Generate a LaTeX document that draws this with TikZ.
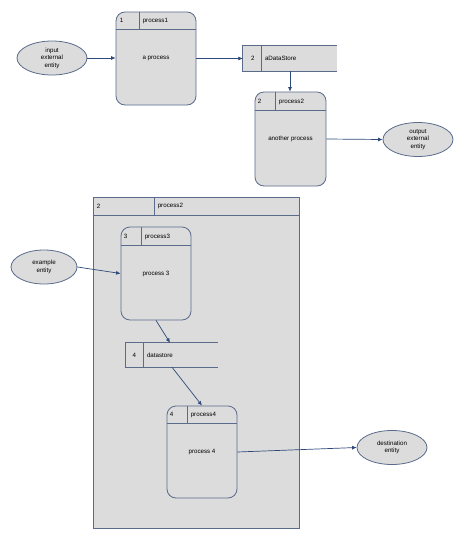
\documentclass[tikz,border=0pt]{standalone}
\usepackage{fontspec}
\setmainfont{Liberation Sans}
\usetikzlibrary{arrows.meta,shapes.geometric,calc}
\definecolor{boxfill}{HTML}{DCDCDC}
\definecolor{boxline}{HTML}{5B6B8C}
\definecolor{arrowcol}{HTML}{2E4A7A}
\tikzset{
  txt/.style={font=\fontsize{6.2}{7.4}\selectfont, text=black, inner sep=0pt},
  proc/.style={draw=boxline, fill=boxfill, rounded corners=9pt, line width=0.8pt, inner sep=0pt, txt},
  ent/.style={draw=boxline, fill=boxfill, ellipse, line width=0.8pt, inner sep=0pt, txt, align=center, minimum width=70pt, minimum height=34pt},
  dsfill/.style={fill=boxfill, draw=none, inner sep=0pt, rectangle},
  edge/.style={draw=boxline, line width=0.7pt},
  flow/.style={draw=arrowcol, line width=0.7pt, -{Latex[length=4.5pt,width=4pt]}},
}
\begin{document}
\begin{tikzpicture}[x=1pt,y=-1pt]
\useasboundingbox[fill=white] (0,0) rectangle (474,557);

% big outer process2 box
\node[draw=boxline, fill=boxfill, line width=0.8pt, minimum width=206pt, minimum height=331pt, inner sep=0pt] (big) at (196,362.5) {};
\draw[edge] ([yshift=-19pt]big.north west) -- ([yshift=-19pt]big.north east);
\draw[edge] ([xshift=62pt]big.north west) -- ([xshift=62pt,yshift=-19pt]big.north west);
\node[txt, anchor=west] (bignum) at ([xshift=4pt,yshift=-10pt]big.north west) {2};
\node[txt, anchor=west] (bigname) at ([xshift=65pt,yshift=-9pt]big.north west) {process2};

% process1
\node[proc, minimum width=80pt, minimum height=93pt] (p1) at (156,58.5) {a process};
\draw[edge] ([yshift=-18pt]p1.north west) -- ([yshift=-18pt]p1.north east);
\draw[edge] ([xshift=24pt]p1.north west) -- ([xshift=24pt,yshift=-18pt]p1.north west);
\node[txt, anchor=west] (p1num) at ([xshift=4pt,yshift=-9pt]p1.north west) {1};
\node[txt, anchor=west] (p1name) at ([xshift=27pt,yshift=-9pt]p1.north west) {process1};

% process2
\node[proc, minimum width=71pt, minimum height=94pt] (p2) at (290.5,139) {another process};
\draw[edge] ([yshift=-19pt]p2.north west) -- ([yshift=-19pt]p2.north east);
\draw[edge] ([xshift=21pt]p2.north west) -- ([xshift=21pt,yshift=-19pt]p2.north west);
\node[txt, anchor=west] (p2num) at ([xshift=3pt,yshift=-10pt]p2.north west) {2};
\node[txt, anchor=west] (p2name) at ([xshift=24pt,yshift=-10pt]p2.north west) {process2};

% process3
\node[proc, minimum width=70pt, minimum height=93pt] (p3) at (156,273.5) {process 3};
\draw[edge] ([yshift=-19pt]p3.north west) -- ([yshift=-19pt]p3.north east);
\draw[edge] ([xshift=21pt]p3.north west) -- ([xshift=21pt,yshift=-19pt]p3.north west);
\node[txt, anchor=west] (p3num) at ([xshift=3pt,yshift=-10pt]p3.north west) {3};
\node[txt, anchor=west] (p3name) at ([xshift=24pt,yshift=-10pt]p3.north west) {process3};

% process4
\node[proc, minimum width=70pt, minimum height=92pt] (p4) at (202,452) {process 4};
\draw[edge] ([yshift=-18pt]p4.north west) -- ([yshift=-18pt]p4.north east);
\draw[edge] ([xshift=21pt]p4.north west) -- ([xshift=21pt,yshift=-18pt]p4.north west);
\node[txt, anchor=west] (p4num) at ([xshift=3pt,yshift=-9pt]p4.north west) {4};
\node[txt, anchor=west] (p4name) at ([xshift=24pt,yshift=-9pt]p4.north west) {process4};

% datastore aDataStore
\node[dsfill, minimum width=94pt, minimum height=25pt] (ds1) at (290,58.5) {};
\draw[edge] (ds1.north east) -- (ds1.north west) -- (ds1.south west) -- (ds1.south east);
\draw[edge] ([xshift=19pt]ds1.north west) -- ([xshift=19pt]ds1.south west);
\node[txt] (ds1num) at ([xshift=10pt]ds1.west) {2};
\node[txt, anchor=west] (ds1name) at ([xshift=22pt]ds1.west) {aDataStore};

% datastore datastore
\node[dsfill, minimum width=92pt, minimum height=24pt] (ds2) at (172,355) {};
\draw[edge] (ds2.north east) -- (ds2.north west) -- (ds2.south west) -- (ds2.south east);
\draw[edge] ([xshift=18pt]ds2.north west) -- ([xshift=18pt]ds2.south west);
\node[txt] (ds2num) at ([xshift=8.5pt]ds2.west) {4};
\node[txt, anchor=west] (ds2name) at ([xshift=21pt]ds2.west) {datastore};

% entities
\node[ent] (in) at (52,58) {input\\external\\entity};
\node[ent] (out) at (418,139.5) {output\\external\\entity};
\node[ent, minimum width=66pt] (ex) at (44,267) {example\\entity};
\node[ent] (dest) at (392,447.5) {destination\\entity};

% flows
\draw[flow] (in.east) -- (p1.west |- in.east);
\draw[flow] (p1.east) -- (ds1.west);
\draw[flow] (ds1.south) -- (p2.north -| ds1.south);
\draw[flow] (p2.east) -- (out.west);
\draw[flow] (ex.east) -- (p3.west);
\draw[flow] (p3.south) -- ([xshift=-2pt]ds2.north);
\draw[flow] (ds2.south) -- (p4.north);
\draw[flow] (p4.east) -- (dest.west);
\end{tikzpicture}
\end{document}
